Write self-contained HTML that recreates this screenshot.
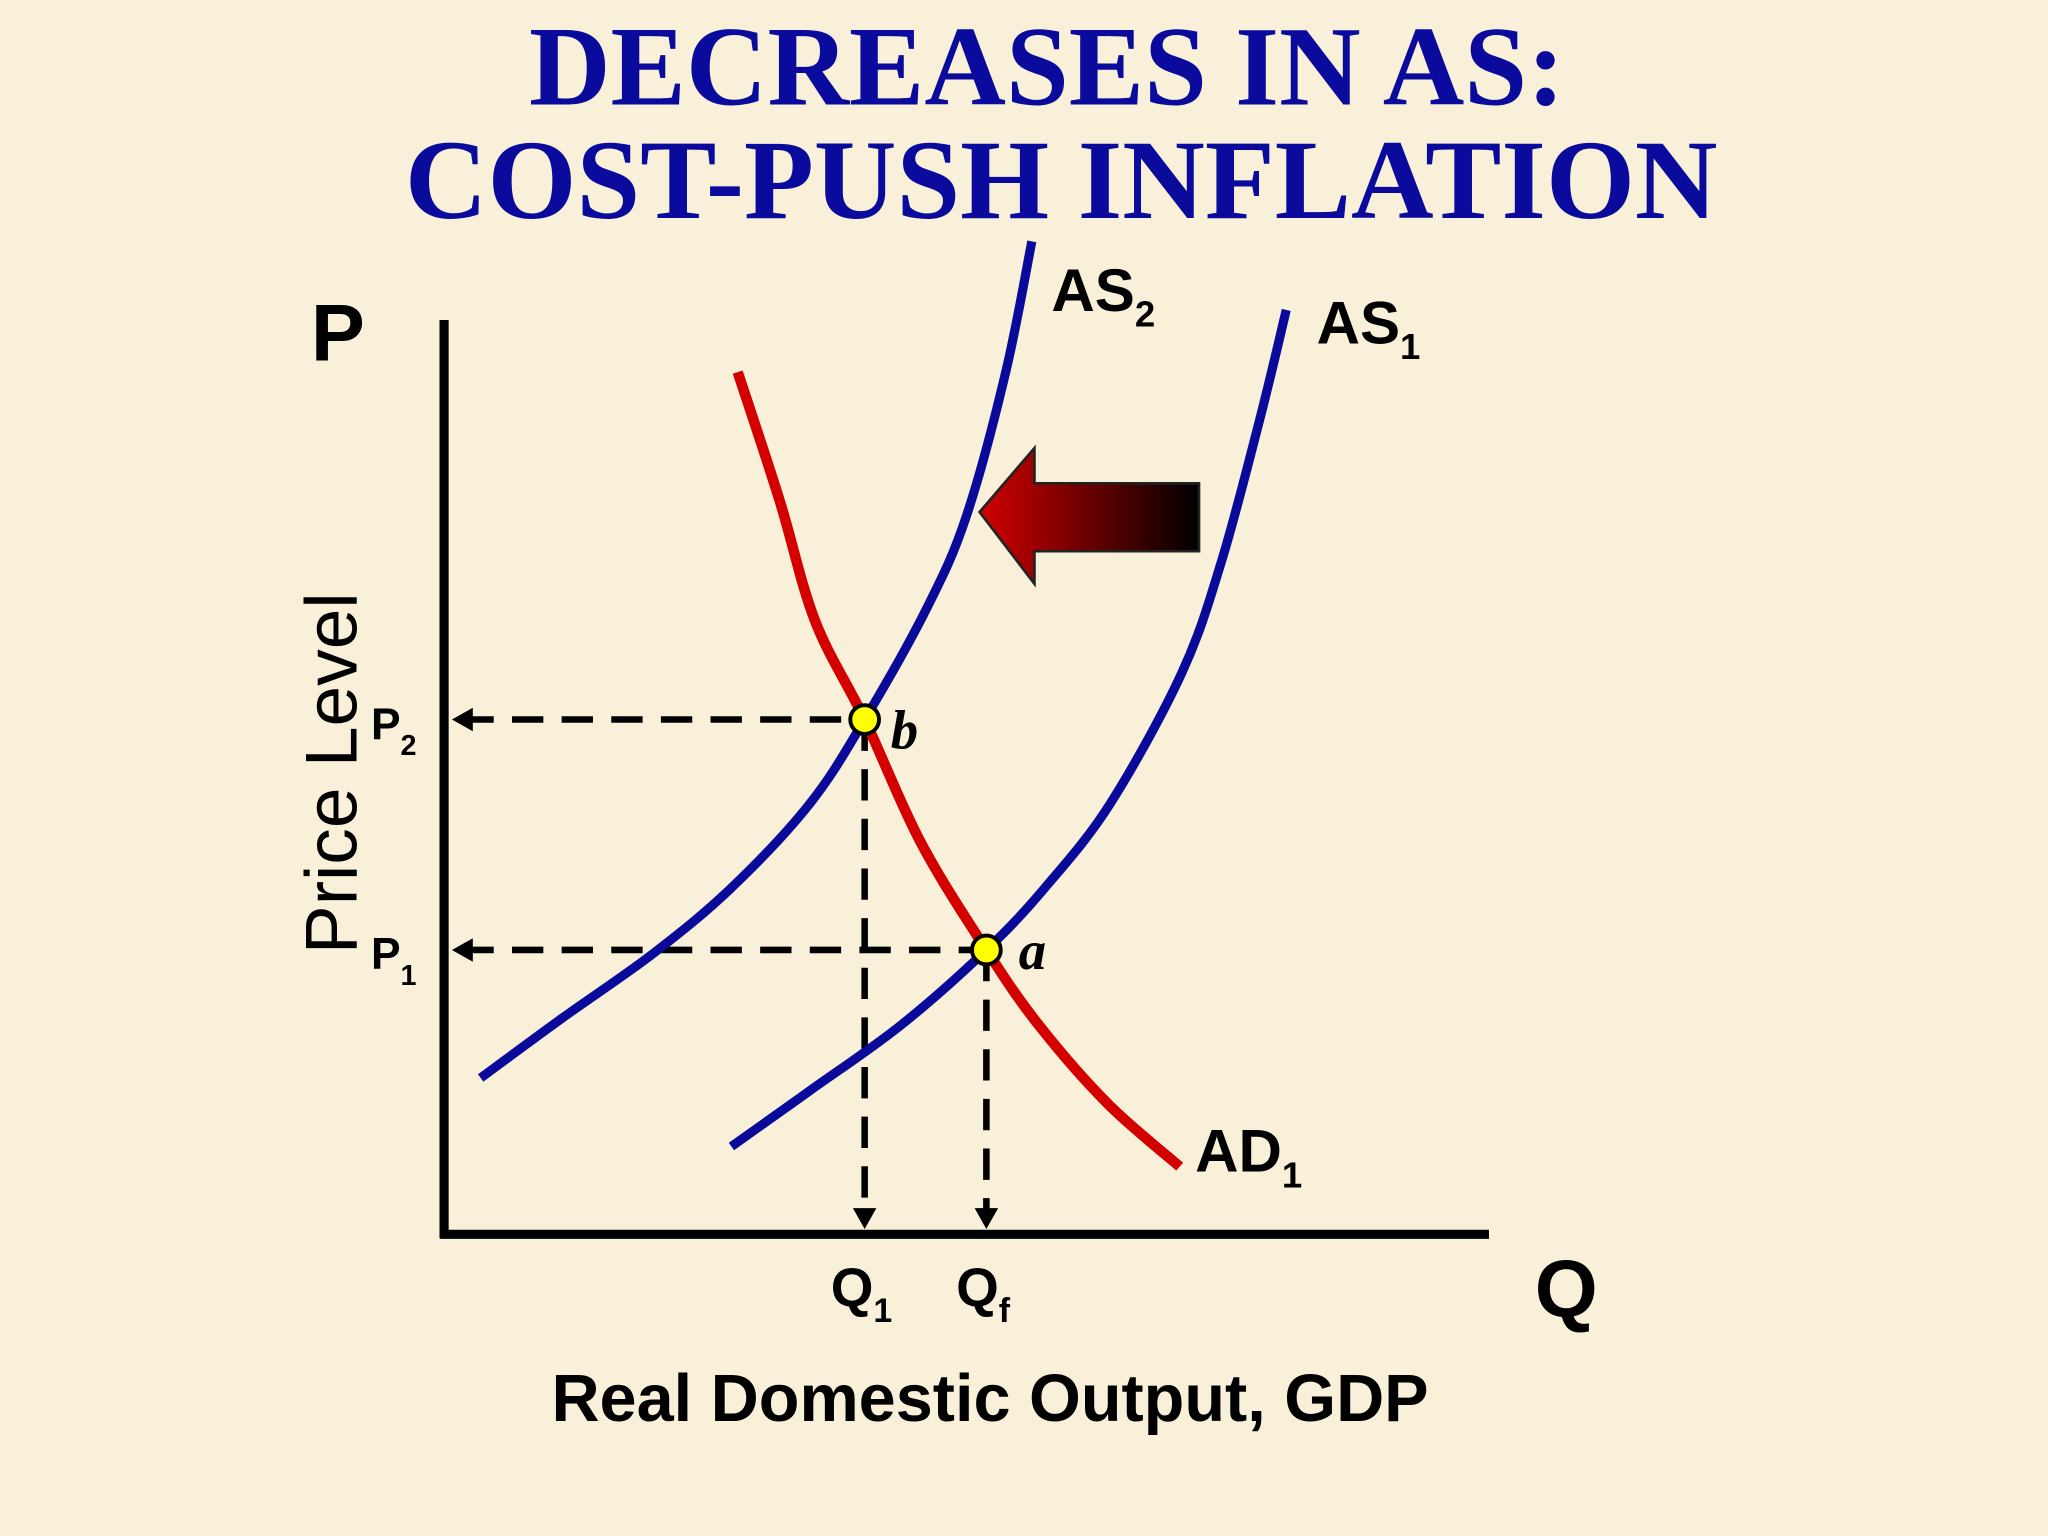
<!DOCTYPE html>
<html><head><meta charset="utf-8"><style>
html,body{margin:0;padding:0;background:#f8f0d9;}
svg{display:block}
</style></head><body>
<svg width="2048" height="1536" viewBox="0 0 1568 1176" xmlns="http://www.w3.org/2000/svg">
<defs>
<linearGradient id="ag" x1="0" x2="1" y1="0" y2="0"><stop offset="0" stop-color="#d00000"/><stop offset="1" stop-color="#000"/></linearGradient>
</defs>
<rect width="1568" height="1176" fill="#f8f0d9"/>
<g font-family="'Liberation Serif',serif" font-weight="bold" fill="#0a0a9c">
<text x="405" y="80" font-size="87" textLength="793" lengthAdjust="spacingAndGlyphs">DECREASES IN AS:</text>
<text x="310" y="167" font-size="87" textLength="1005" lengthAdjust="spacingAndGlyphs">COST-PUSH INFLATION</text>
</g>
<g id="plot"></g>
<g font-family="'Liberation Sans',sans-serif" fill="#000">
<text x="238" y="276" font-size="62" font-weight="bold">P</text>
<text x="1175" y="1008" font-size="62" font-weight="bold">Q</text>
<text transform="translate(273,592) rotate(-90)" text-anchor="middle" font-size="56">Price Level</text>
<text x="758" y="1088" text-anchor="middle" font-size="51" font-weight="bold">Real Domestic Output, GDP</text>
<g font-weight="bold">
<text x="284" y="566" font-size="34">P<tspan font-size="22" dy="12">2</tspan></text>
<text x="284" y="742" font-size="34">P<tspan font-size="22" dy="12">1</tspan></text>
<text x="636" y="1000" font-size="42">Q<tspan font-size="26" dy="12">1</tspan></text>
<text x="732" y="1000" font-size="42">Q<tspan font-size="26" dy="12">f</tspan></text>
<text x="805" y="238" font-size="46">AS<tspan font-size="28" dy="12">2</tspan></text>
<text x="1008" y="263" font-size="46">AS<tspan font-size="28" dy="12">1</tspan></text>
<text x="915" y="897" font-size="46">AD<tspan font-size="28" dy="12">1</tspan></text>
</g>
<text x="682" y="573" font-family="'Liberation Serif',serif" font-style="italic" font-weight="bold" font-size="42">b</text>
<text x="780" y="742" font-family="'Liberation Serif',serif" font-style="italic" font-weight="bold" font-size="42">a</text>
</g>
<path d="M750,392 L792,343 L792,370 L918,370 L918,422 L792,422 L792,447 Z" fill="url(#ag)" stroke="#222" stroke-width="2"/>
</svg>
<script>
const adQ=[28.1,32.1,35.5,40.25,45.6,51.9,56.9,63.5,70.4];
const adP=[94.3,80.3,67.1,56.3,42.9,31.1,22.9,14.3,7.4];
const as1Q=[27.5,35,43.75,51.9,57.5,63.75,70.6,74.4,78.1,80.6];
const as1P=[9.6,15.7,22.9,31.1,37.9,47.1,61.4,73.6,89.3,101.1];
const as2Q=[3.5,11.25,20,27.5,35,40.25,46.25,50,53.75,56.25];
const as2P=[17.1,23.6,30.7,37.9,47.1,56.3,68.6,78.6,94.3,108.6];
const eqNames=['b','a'];
const eqQ=[40.25,51.9];
const eqP=[56.3,31.1];
const NS='http://www.w3.org/2000/svg';
const X0=340,X1=1140,Y0=945,Y1=245;
function sx(q){return X0+q*(X1-X0)/100;}
function sy(p){return Y0-p*(Y0-Y1)/100;}
const g=document.getElementById('plot');
function el(t,a){const e=document.createElementNS(NS,t);for(const k in a)e.setAttribute(k,a[k]);g.appendChild(e);return e;}
function curve(Q,P){const pts=Q.map((q,i)=>[sx(q),sy(P[i])]);let d='M'+pts[0][0]+','+pts[0][1];
for(let i=0;i<pts.length-1;i++){const p0=pts[i-1]||pts[i],p1=pts[i],p2=pts[i+1],p3=pts[i+2]||p2;
d+=' C'+(p1[0]+(p2[0]-p0[0])/6)+','+(p1[1]+(p2[1]-p0[1])/6)+' '+(p2[0]-(p3[0]-p1[0])/6)+','+(p2[1]-(p3[1]-p1[1])/6)+' '+p2[0]+','+p2[1];}return d;}
for(let i=0;i<eqQ.length;i++){
 let h=el('path',{d:`M${X0+14},${sy(eqP[i])} L${sx(eqQ[i])},${sy(eqP[i])}`,stroke:'#000','stroke-width':5,'stroke-dasharray':'24 14',fill:'none'});
 
 
 let ha=el('path',{d:`M${X0+6},${sy(eqP[i])} l16,-9 l0,18 z`,fill:'#000'});
 
 
 let v=el('path',{d:`M${sx(eqQ[i])},${sy(eqP[i])} L${sx(eqQ[i])},${Y0-14}`,stroke:'#000','stroke-width':5,'stroke-dasharray':'24 14',fill:'none'});
 
 
 let va=el('path',{d:`M${sx(eqQ[i])},${Y0-4} l-9,-16 l18,0 z`,fill:'#000'});
 
 
}
let ya=el('line',{x1:X0,y1:Y1,x2:X0,y2:Y0+3,stroke:'#000','stroke-width':7});


let xa=el('line',{x1:X0-3,y1:Y0,x2:X1,y2:Y0,stroke:'#000','stroke-width':7});


let c1=el('path',{d:curve(as1Q,as1P),stroke:'#0a0a9a','stroke-width':7,fill:'none'});


let c2=el('path',{d:curve(as2Q,as2P),stroke:'#0a0a9a','stroke-width':7,fill:'none'});


let c3=el('path',{d:curve(adQ,adP),stroke:'#d40000','stroke-width':8,fill:'none'});


for(let i=0;i<eqQ.length;i++){
 let c=el('circle',{cx:sx(eqQ[i]),cy:sy(eqP[i]),r:11,fill:'#ffff00',stroke:'#000','stroke-width':3});
 
 
}
</script>
</body></html>
